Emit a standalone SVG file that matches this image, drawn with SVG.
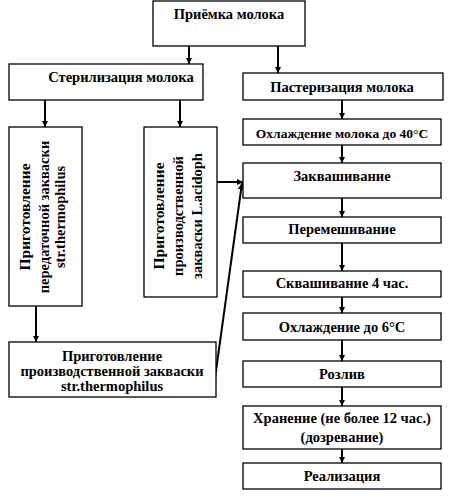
<svg xmlns="http://www.w3.org/2000/svg" width="467" height="504" viewBox="0 0 467 504">
<style>
.box{fill:#fff;stroke:#000;stroke-width:1.3}
.t{font-weight:bold;font-size:14.5px;fill:#000;text-anchor:middle}
.c{stroke:#000;stroke-width:2;fill:none}
</style>
<defs>
<marker id="ah" viewBox="0 0 10 10" refX="10" refY="5" markerWidth="3.2" markerHeight="3.2" orient="auto" markerUnits="strokeWidth">
<path d="M0,0 L10,5 L0,10 z" fill="#000"/>
</marker>
</defs>
<rect width="467" height="504" fill="#fff"/>
<g id="connectors">
<line class="c" x1="189" y1="46" x2="189" y2="64" marker-end="url(#ah)"/>
<line class="c" x1="278" y1="46" x2="278" y2="73" marker-end="url(#ah)"/>
<line class="c" x1="45" y1="100" x2="45" y2="127" marker-end="url(#ah)"/>
<line class="c" x1="180" y1="100" x2="180" y2="127" marker-end="url(#ah)"/>
<line class="c" x1="342" y1="100" x2="342" y2="119" marker-end="url(#ah)"/>
<line class="c" x1="342" y1="145" x2="342" y2="163" marker-end="url(#ah)"/>
<line class="c" x1="342" y1="198" x2="342" y2="217" marker-end="url(#ah)"/>
<line class="c" x1="342" y1="243" x2="342" y2="271" marker-end="url(#ah)"/>
<line class="c" x1="342" y1="297" x2="342" y2="313" marker-end="url(#ah)"/>
<line class="c" x1="342" y1="340" x2="342" y2="361" marker-end="url(#ah)"/>
<line class="c" x1="342" y1="387" x2="342" y2="406" marker-end="url(#ah)"/>
<line class="c" x1="342" y1="449" x2="342" y2="463" marker-end="url(#ah)"/>
<line class="c" x1="36" y1="306" x2="36" y2="342" marker-end="url(#ah)"/>
<line class="c" x1="217" y1="182" x2="243" y2="182" marker-end="url(#ah)"/>
<line class="c" x1="215" y1="378" x2="242" y2="183" marker-end="url(#ah)"/>
</g>
<g font-family="'Liberation Serif', 'DejaVu Serif', serif">
<g id="n1"><rect class="box" x="153" y="1" width="152" height="45"/><text class="t" x="229" y="19">Приёмка молока</text></g>
<g id="n2"><rect class="box" x="9" y="64" width="194" height="36"/><text class="t" x="121" y="82">Стерилизация молока</text></g>
<g id="n3"><rect class="box" x="243" y="73" width="200" height="27"/><text class="t" x="342" y="92">Пастеризация молока</text></g>
<g id="n4"><rect class="box" x="9" y="127" width="73" height="179"/>
<g transform="translate(45,217) rotate(-90)">
<text class="t" x="0" y="-15" style="font-size:15.5px">Приготовление</text>
<text class="t" x="0" y="3.5">передаточной закваски</text>
<text class="t" x="0" y="19.5">str.thermophilus</text>
</g></g>
<g id="n5"><rect class="box" x="144" y="127" width="73" height="170"/>
<g transform="translate(180,216) rotate(-90)">
<text class="t" x="0" y="-16" style="font-size:15.5px">Приготовление</text>
<text class="t" x="0" y="2.5">производственной</text>
<text class="t" x="0" y="21.5">закваски L.acidoph</text>
</g></g>
<g id="n6"><rect class="box" x="9" y="342" width="207" height="55"/>
<text class="t" x="112" y="361">Приготовление</text>
<text class="t" x="112" y="376">производственной закваски</text>
<text class="t" x="112" y="391">str.thermophilus</text></g>
<g id="n7"><rect class="box" x="243" y="119" width="198" height="26"/><text class="t" x="342" y="138" style="font-size:13.5px">Охлаждение молока до 40°С</text></g>
<g id="n8"><rect class="box" x="243" y="163" width="198" height="35"/><text class="t" x="342" y="181">Заквашивание</text></g>
<g id="n9"><rect class="box" x="243" y="217" width="198" height="26"/><text class="t" x="342" y="234">Перемешивание</text></g>
<g id="n10"><rect class="box" x="243" y="271" width="198" height="26"/><text class="t" x="342" y="288">Сквашивание 4 час.</text></g>
<g id="n11"><rect class="box" x="243" y="313" width="198" height="27"/><text class="t" x="342" y="332">Охлаждение до 6°С</text></g>
<g id="n12"><rect class="box" x="243" y="361" width="198" height="26"/><text class="t" x="342" y="379">Розлив</text></g>
<g id="n13"><rect class="box" x="243" y="406" width="198" height="43"/>
<text class="t" x="342" y="423">Хранение (не более 12 час.)</text>
<text class="t" x="342" y="442">(дозревание)</text></g>
<g id="n14"><rect class="box" x="243" y="463" width="198" height="26"/><text class="t" x="342" y="481">Реализация</text></g>
</g>
</svg>
